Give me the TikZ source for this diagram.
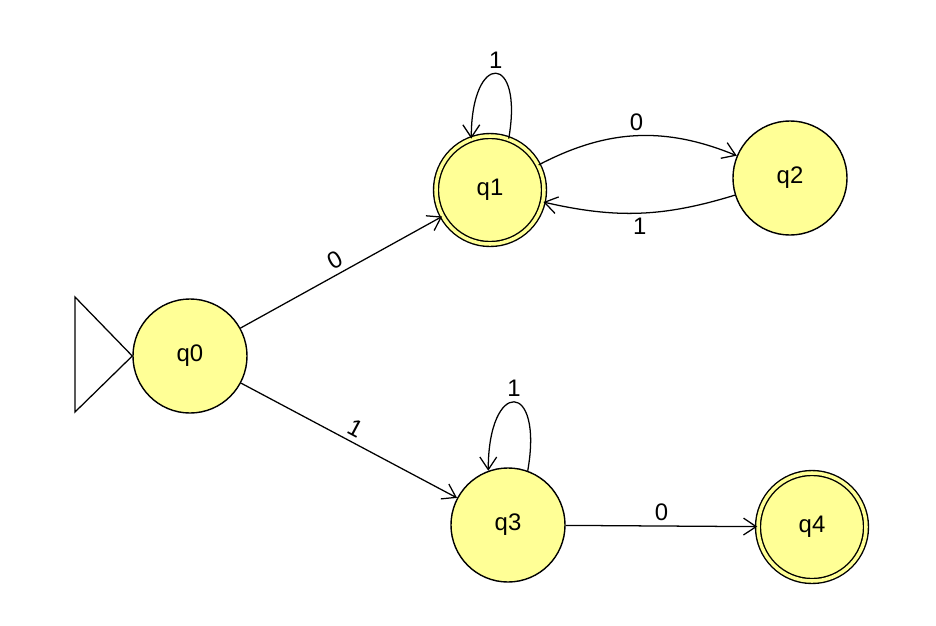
\documentclass[tikz,border=0pt]{standalone}
\usepackage{fontspec}
\setmainfont{Liberation Sans}
\usetikzlibrary{arrows.meta}
\definecolor{st}{RGB}{255,255,150}
\begin{document}
\begin{tikzpicture}[x=0.025cm,y=-0.025cm,
  state/.style={circle,draw,fill=st,line width=1pt,minimum size=2.85cm,inner sep=0pt,font=\fontsize{17}{20}\selectfont},
  acc/.style={state,double=st,double distance=2.5pt,minimum size=2.7cm},
  edge/.style={line width=0.9pt,-{Straight Barb[length=9pt,width=12pt]}},
  lab/.style={font=\fontsize{17}{20}\selectfont}]
\useasboundingbox (0,0) rectangle (936,626);
\node[state] (q0) at (190,356) {q0};
\node[acc] (q1) at (490,190) {q1};
\node[state] (q2) at (790,178) {q2};
\node[state] (q3) at (508,525) {q3};
\node[acc] (q4) at (812,527) {q4};
\draw[line width=0.9pt] (q0.west) -- (75,297) -- (75,412) -- cycle;
\draw[edge] (q0) -- node[lab,above,sloped] {0} (q1);
\draw[edge] (q0) -- node[lab,above,sloped] {1} (q3);
\draw[edge] (q1) to[bend left=25] node[lab,above] {0} (q2);
\draw[edge] (q2) to[bend left=15] node[lab,below] {1} (q1);
\draw[edge] (q3) -- node[lab,above] {0} (q4);
\draw[edge] (q1.70) to[out=80,in=90,looseness=6] node[lab,above] {1} (q1.110);
\draw[edge] (q3.70) to[out=80,in=90,looseness=6] node[lab,above] {1} (q3.110);
\end{tikzpicture}
\end{document}
